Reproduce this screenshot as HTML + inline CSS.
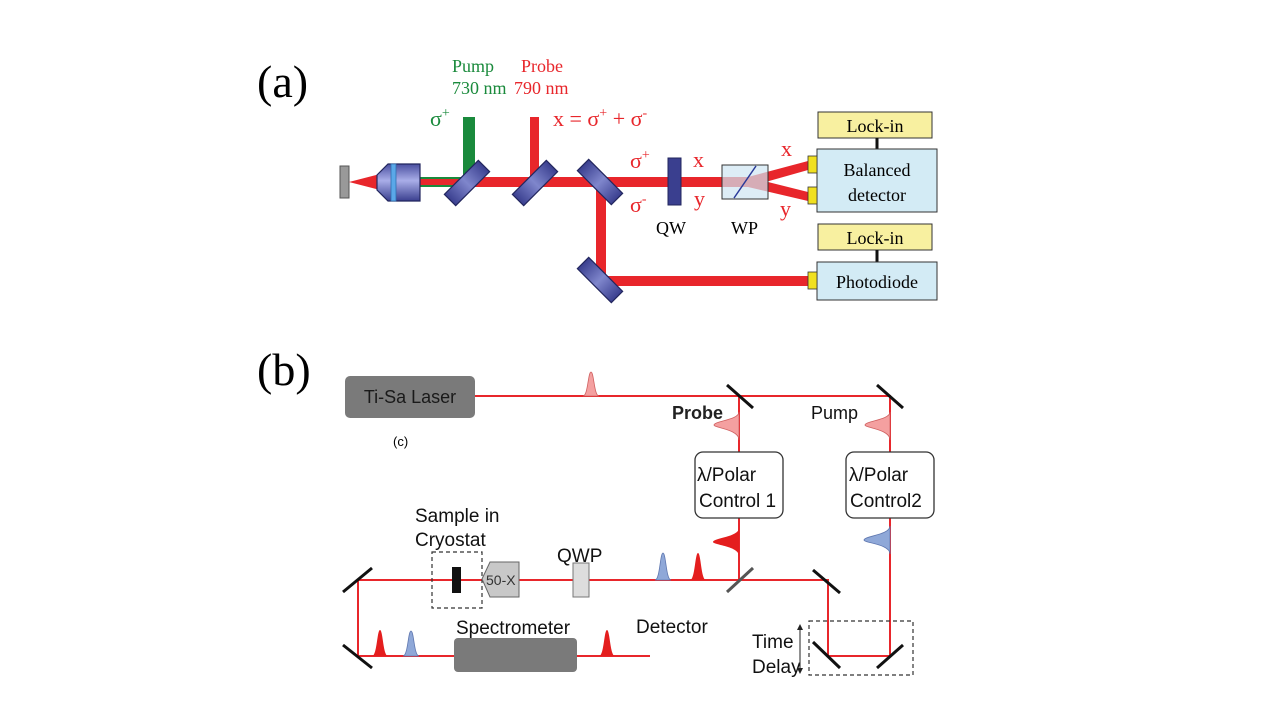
<!DOCTYPE html>
<html><head><meta charset="utf-8"><style>
html,body{margin:0;padding:0;background:#fff;}
svg{display:block;}
.s{font-family:"Liberation Serif",serif;}
.c{font-family:"Liberation Sans",sans-serif;}
</style></head><body>
<svg width="1280" height="720" viewBox="0 0 1280 720" xmlns="http://www.w3.org/2000/svg">
<defs>
<linearGradient id="mir" x1="0" y1="0" x2="1" y2="0"><stop offset="0" stop-color="#3a3f8f"/><stop offset="0.5" stop-color="#7f86cc"/><stop offset="1" stop-color="#3a3f8f"/></linearGradient>
<linearGradient id="obj" x1="0" y1="0" x2="0" y2="1"><stop offset="0" stop-color="#4a4fa0"/><stop offset="0.45" stop-color="#a9aee8"/><stop offset="1" stop-color="#3a3f8f"/></linearGradient>
</defs>
<!-- (a) -->
<text class="s" x="257" y="97" font-size="46">(a)</text>
<text class="s" x="452" y="72" font-size="18" fill="#1a8a3c">Pump</text>
<text class="s" x="452" y="94" font-size="18" fill="#1a8a3c">730 nm</text>
<text class="s" x="521" y="72" font-size="18" fill="#e8262b">Probe</text>
<text class="s" x="514" y="94" font-size="18" fill="#e8262b">790 nm</text>
<text class="s" x="430" y="126" font-size="22" fill="#1a8a3c">σ<tspan font-size="14" dy="-9">+</tspan></text>
<text class="s" x="553" y="126" font-size="22" fill="#e8262b">x = σ<tspan font-size="14" dy="-9">+</tspan><tspan dy="9"> + σ</tspan><tspan font-size="14" dy="-9">-</tspan></text>
<rect x="463" y="117" width="12" height="66" fill="#1a8a3c"/>
<rect x="420" y="177" width="50" height="10" fill="#1a8a3c"/>
<rect x="420" y="179" width="50" height="6" fill="#e8262b"/>
<rect x="530" y="117" width="9" height="66" fill="#e8262b"/>
<rect x="468" y="177" width="280" height="10" fill="#e8262b"/>
<rect x="596" y="182" width="10" height="103" fill="#e8262b"/>
<rect x="596" y="276" width="213" height="10" fill="#e8262b"/>
<polygon points="748,177 808,161 808,170 748,187" fill="#e8262b"/>
<polygon points="748,177 808,192 808,201 748,187" fill="#e8262b"/>
<rect x="340" y="166" width="9" height="32" fill="#999" stroke="#555" stroke-width="1"/>
<polygon points="349,182 380,174 380,190" fill="#e8262b"/>
<path d="M377,175 L388,164 L420,164 L420,201 L388,201 L377,190 Z" fill="url(#obj)" stroke="#22265e" stroke-width="1.2"/>
<rect x="391" y="164" width="5" height="37" fill="#5aa8e8" stroke="#2d6fb0" stroke-width="0.8"/>
<rect x="443" y="175" width="48" height="16" fill="url(#mir)" stroke="#22265e" stroke-width="1.2" transform="rotate(-45 467 183)"/>
<rect x="511" y="175" width="48" height="16" fill="url(#mir)" stroke="#22265e" stroke-width="1.2" transform="rotate(-45 535 183)"/>
<rect x="576" y="174" width="48" height="16" fill="url(#mir)" stroke="#22265e" stroke-width="1.2" transform="rotate(45 600 182)"/>
<rect x="576" y="272" width="48" height="16" fill="url(#mir)" stroke="#22265e" stroke-width="1.2" transform="rotate(45 600 280)"/>
<rect x="668" y="158" width="13" height="47" fill="#3a3f8f" stroke="#22265e"/>
<rect x="722" y="165" width="46" height="34" fill="#cfe6f2" fill-opacity="0.7" stroke="#333" stroke-width="1"/>
<line x1="734" y1="198" x2="756" y2="166" stroke="#2a3a9a" stroke-width="1.5"/>
<text class="s" x="630" y="168" font-size="22" fill="#e8262b">σ<tspan font-size="14" dy="-9">+</tspan></text>
<text class="s" x="630" y="212" font-size="22" fill="#e8262b">σ<tspan font-size="14" dy="-9">-</tspan></text>
<text class="s" x="693" y="167" font-size="22" fill="#e8262b">x</text>
<text class="s" x="694" y="206" font-size="22" fill="#e8262b">y</text>
<text class="s" x="656" y="234" font-size="18">QW</text>
<text class="s" x="731" y="234" font-size="18">WP</text>
<text class="s" x="781" y="156" font-size="22" fill="#e8262b">x</text>
<text class="s" x="780" y="216" font-size="22" fill="#e8262b">y</text>
<rect x="818" y="112" width="114" height="26" fill="#f8f0a0" stroke="#333"/>
<text class="s" x="875" y="132" font-size="18" text-anchor="middle">Lock-in</text>
<line x1="877" y1="138" x2="877" y2="149" stroke="#111" stroke-width="3"/>
<rect x="817" y="149" width="120" height="63" fill="#d3ebf5" stroke="#333"/>
<text class="s" x="877" y="176" font-size="18" text-anchor="middle">Balanced</text>
<text class="s" x="877" y="201" font-size="18" text-anchor="middle">detector</text>
<rect x="808" y="156" width="9" height="17" fill="#f0e020" stroke="#333" stroke-width="0.8"/>
<rect x="808" y="187" width="9" height="17" fill="#f0e020" stroke="#333" stroke-width="0.8"/>
<rect x="818" y="224" width="114" height="26" fill="#f8f0a0" stroke="#333"/>
<text class="s" x="875" y="244" font-size="18" text-anchor="middle">Lock-in</text>
<line x1="877" y1="250" x2="877" y2="262" stroke="#111" stroke-width="3"/>
<rect x="817" y="262" width="120" height="38" fill="#d3ebf5" stroke="#333"/>
<text class="s" x="877" y="288" font-size="18" text-anchor="middle">Photodiode</text>
<rect x="808" y="272" width="9" height="17" fill="#f0e020" stroke="#333" stroke-width="0.8"/>

<!-- (b) -->
<text class="s" x="257" y="385" font-size="46">(b)</text>
<g stroke="#e8262b" stroke-width="2" fill="none">
<path d="M475,396 H890 V656 H828 V580 H358 V656 H650"/>
<path d="M739,396 V580"/>
</g>
<rect x="345" y="376" width="130" height="42" rx="5" fill="#7a7a7a"/>
<text class="c" x="410" y="403" font-size="18" fill="#1a1a1a" text-anchor="middle">Ti-Sa Laser</text>
<text class="c" x="393" y="446" font-size="13">(c)</text>
<path d="M583,396 C588,396 588,372 591,372 C594,372 594,396 599,396 Z" fill="#f4a0a0" stroke="#d06060" stroke-width="0.8"/>
<path d="M655,580 C660,580 660,553 663,553 C666,553 666,580 671,580 Z" fill="#8fa8d8" stroke="#6078b0" stroke-width="0.8"/>
<path d="M690,580 C695,580 695,553 698,553 C701,553 701,580 706,580 Z" fill="#e41e1e"/>
<path d="M372,656 C377,656 377,630 380,630 C383,630 383,656 388,656 Z" fill="#e41e1e"/>
<path d="M403,656 C408,656 408,631 411,631 C414,631 414,656 419,656 Z" fill="#8fa8d8" stroke="#6078b0" stroke-width="0.8"/>
<path d="M599,656 C604,656 604,630 607,630 C610,630 610,656 615,656 Z" fill="#e41e1e"/>
<path d="M739,412 C739,420 714,421 714,425 C714,428 739,429 739,440 Z" fill="#f4a0a0" stroke="#d06060" stroke-width="0.8"/>
<path d="M890,412 C890,420 865,421 865,425 C865,428 890,429 890,440 Z" fill="#f4a0a0" stroke="#d06060" stroke-width="0.8"/>
<path d="M739,528 C739,537 713,538 713,542 C713,545 739,546 739,556 Z" fill="#e41e1e"/>
<path d="M890,526 C890,535 864,536 864,540 C864,543 890,544 890,554 Z" fill="#8fa8d8" stroke="#6078b0" stroke-width="0.8"/>
<g stroke="#111" stroke-width="3">
<line x1="727" y1="385" x2="753" y2="408"/>
<line x1="877" y1="385" x2="903" y2="408"/>
<line x1="813" y1="570" x2="840" y2="593"/>
<line x1="813" y1="642" x2="840" y2="668"/>
<line x1="877" y1="668" x2="903" y2="645"/>
<line x1="343" y1="592" x2="372" y2="568"/>
<line x1="343" y1="645" x2="372" y2="668"/>
</g>
<line x1="727" y1="592" x2="753" y2="568" stroke="#555" stroke-width="3"/>
<text class="c" x="672" y="419" font-size="18" font-weight="bold" fill="#222">Probe</text>
<text class="c" x="811" y="419" font-size="18" fill="#111">Pump</text>
<rect x="695" y="452" width="88" height="66" rx="8" fill="#fff" stroke="#333" stroke-width="1.3"/>
<text class="c" x="697" y="481" font-size="19" fill="#111">λ/Polar</text>
<text class="c" x="699" y="507" font-size="19" fill="#111">Control 1</text>
<rect x="846" y="452" width="88" height="66" rx="8" fill="#fff" stroke="#333" stroke-width="1.3"/>
<text class="c" x="849" y="481" font-size="19" fill="#111">λ/Polar</text>
<text class="c" x="850" y="507" font-size="19" fill="#111">Control2</text>
<rect x="809" y="621" width="104" height="54" fill="none" stroke="#333" stroke-width="1.2" stroke-dasharray="4,3"/>
<text class="c" x="752" y="648" font-size="19" fill="#111">Time</text>
<text class="c" x="752" y="673" font-size="19" fill="#111">Delay</text>
<line x1="800" y1="628" x2="800" y2="670" stroke="#222" stroke-width="1"/>
<polygon points="800,624 797,630 803,630" fill="#222"/>
<polygon points="800,674 797,668 803,668" fill="#222"/>
<text class="c" x="636" y="633" font-size="19" fill="#111">Detector</text>
<rect x="432" y="552" width="50" height="56" fill="none" stroke="#333" stroke-width="1.2" stroke-dasharray="4,3"/>
<rect x="452" y="567" width="9" height="26" fill="#111"/>
<polygon points="482,579 490,562 519,562 519,597 490,597" fill="#c8c8c8" stroke="#666" stroke-width="1"/>
<text class="c" x="486" y="585" font-size="14" fill="#333">50-X</text>
<rect x="573" y="563" width="16" height="34" fill="#ddd" stroke="#777" stroke-width="1"/>
<rect x="454" y="638" width="123" height="34" rx="4" fill="#7a7a7a"/>
<text class="c" x="415" y="522" font-size="19" fill="#111">Sample in</text>
<text class="c" x="415" y="546" font-size="19" fill="#111">Cryostat</text>
<text class="c" x="557" y="562" font-size="19" fill="#111">QWP</text>
<text class="c" x="456" y="634" font-size="19" fill="#111">Spectrometer</text>
</svg>
</body></html>
